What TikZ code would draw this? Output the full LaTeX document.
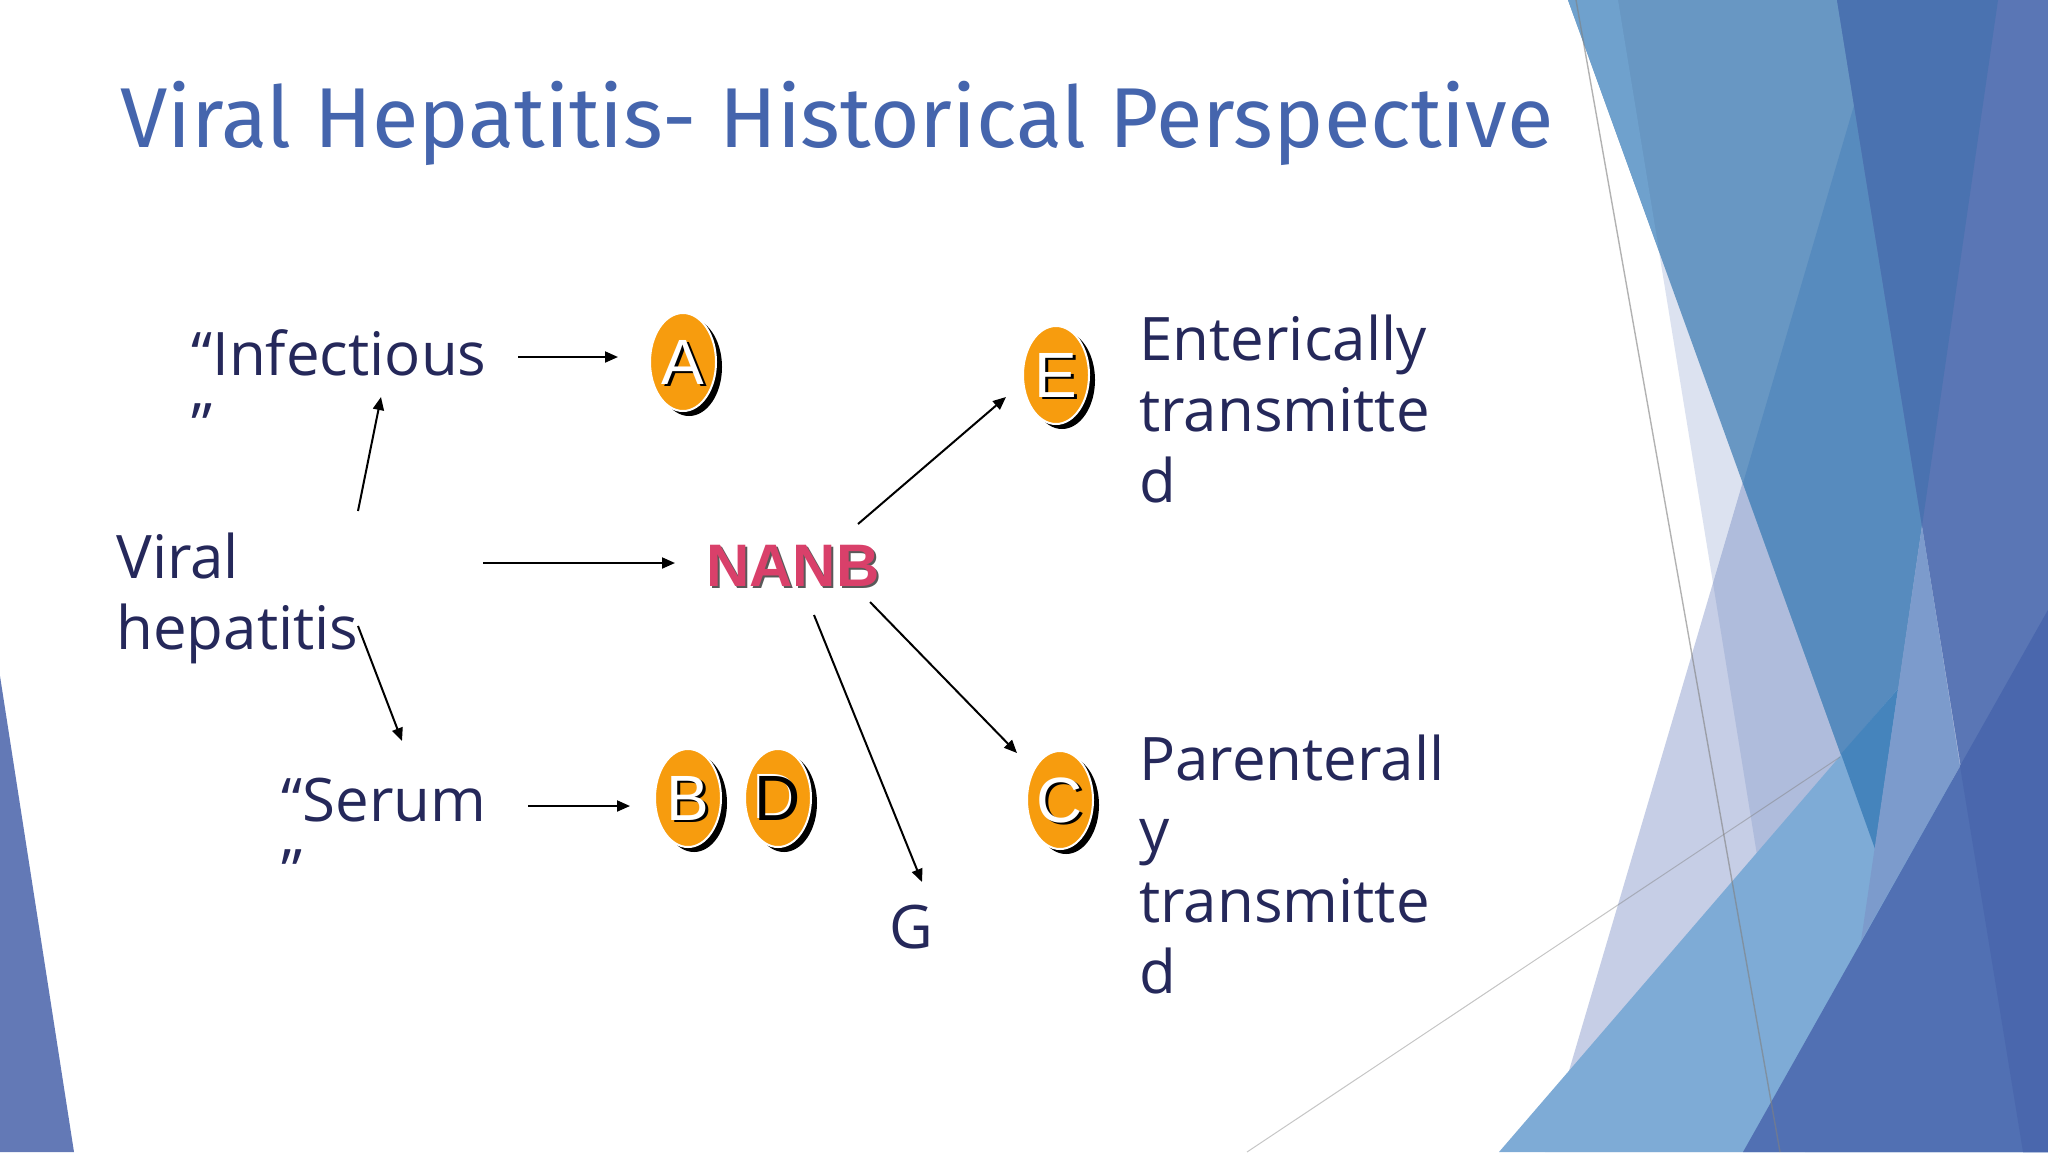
\documentclass[tikz,border=0pt]{standalone}
\usepackage{fontspec}
\setmainfont{Open Sans}
\newfontfamily\titlefont{Fira Sans}
\newfontfamily\arialfont{Liberation Sans}
\usetikzlibrary{arrows.meta,shapes.geometric}
\definecolor{titleblue}{HTML}{4565AD}
\definecolor{bodytext}{HTML}{25285A}
\definecolor{orangefill}{HTML}{F79C0E}
\definecolor{nanbred}{HTML}{D9406A}
\definecolor{leftblue}{HTML}{6379B6}
\definecolor{cLav}{HTML}{C6CEE6}
\definecolor{cSthree}{HTML}{DCE2F0}
\definecolor{cStwothree}{HTML}{AFBCDC}
\definecolor{cSone}{HTML}{6897C3}
\definecolor{cSonel}{HTML}{6FA1CD}
\definecolor{cSonetwo}{HTML}{578BBE}
\definecolor{cSseven}{HTML}{5A76B5}
\definecolor{cSoneseven}{HTML}{4A72B0}
\definecolor{cSfour}{HTML}{7EABD6}
\definecolor{cSonefour}{HTML}{4584BC}
\definecolor{cSfive}{HTML}{7C9BCC}
\definecolor{cSsix}{HTML}{5170B3}
\definecolor{cSsixseven}{HTML}{4A67AD}
\newcommand\shletter[1]{\rlap{\smash{\kern1.2pt\raisebox{-1.2pt}{\color{black}#1}}}{\color{white}#1}}
\newcommand\dletter[1]{\rlap{\smash{\kern-1pt\raisebox{0.8pt}{\color{white}#1}}}{\color{black}#1}}
\tikzset{
  lbl/.style={anchor=base west, inner sep=0pt, text=bodytext, font=\fontsize{30}{35.5}\selectfont},
  virus/.style={ellipse, fill=orangefill, draw=white, line width=1pt, minimum width=33pt, minimum height=49pt, inner sep=0pt, font=\arialfont\fontsize{32}{36}\selectfont},
  vshadow/.style={ellipse, fill=black, minimum width=33pt, minimum height=49pt, inner sep=0pt},
  arr/.style={-{Triangle[length=6.5pt,width=5.5pt]}, line width=1pt, black},
  grayline/.style={draw=gray, line width=0.7pt, opacity=0.6},
}
\begin{document}
\begin{tikzpicture}[x=0.5pt,y=-0.5pt]
\useasboundingbox (0,0) rectangle (2048,1152);
\fill[white] (0,0) rectangle (2048,1152);
% left decoration
\fill[leftblue] (0,676) -- (74,1152) -- (0,1152) -- cycle;
% right decoration
\fill[cLav] (1885,0) -- (2048,0) -- (2048,1152) -- (1545,1152) -- cycle;
\fill[cSthree] (1618,0) -- (1885,0) -- (1713,583) -- cycle;
\fill[cStwothree] (1885,0) -- (2048,0) -- (2048,1152) -- (1805,1152) -- (1713,583) -- cycle;
\fill[cSone] (1568,0) -- (1998,0) -- (1875,849) -- cycle;
\fill[cSonel] (1568,0) -- (1618,0) -- (1659,251) -- cycle;
\fill[cSonetwo] (1885,0) -- (1998,0) -- (1875,849) -- (1743,483) -- cycle;
\fill[cSseven] (1837,0) -- (2048,0) -- (2048,1152) -- (2023,1152) -- cycle;
\fill[cSoneseven] (1837,0) -- (1998,0) -- (1922,526) -- cycle;
\fill[cSfour] (1499,1152) -- (1922,661) -- (2048,1152) -- cycle;
\fill[cSonefour] (1841,754) -- (1898,689) -- (1875,849) -- cycle;
\fill[cSfive] (1922,526) -- (1960,766) -- (1861,941) -- cycle;
\fill[cSsix] (1743,1152) -- (2048,610) -- (2048,1152) -- cycle;
\fill[cSsixseven] (1960,766) -- (2048,610) -- (2048,1152) -- (2023,1152) -- cycle;
\draw[grayline] (1576,0) -- (1780,1152);
\draw[grayline, line width=0.5pt, opacity=0.45] (1247,1152) -- (1840,757);

% title
\node[anchor=base west, inner sep=0pt, text=titleblue, font=\titlefont\fontsize{42.5}{48}\selectfont] (title) at (120,147) {Viral Hepatitis- Historical Perspective};

% text labels
\node[lbl] (inf) at (191,375) {\begin{tabular}[t]{@{}l@{}}“Infectious\\”\end{tabular}};
\node[lbl] (viral) at (116,578) {\begin{tabular}[t]{@{}l@{}}Viral\\hepatitis\end{tabular}};
\node[lbl] (serum) at (281,821) {\begin{tabular}[t]{@{}l@{}}“Serum\\”\end{tabular}};
\node[lbl] (G) at (889,948) {G};
\node[lbl] (ent) at (1139,360) {\begin{tabular}[t]{@{}l@{}}Enterically\\transmitte\\d\end{tabular}};
\node[lbl] (par) at (1139,780) {\begin{tabular}[t]{@{}l@{}}Parenterall\\y\\transmitte\\d\end{tabular}};

% NANB
\node[inner sep=0pt] (nanb) at (793,566) {\arialfont\bfseries\fontsize{30}{34}\selectfont\rlap{\smash{\kern1pt\raisebox{-1pt}{\color{black!65}NANB}}}{\color{nanbred}NANB}};

% virus ellipses
\node[vshadow] (As) at (689,367) {};
\node[virus] (A) at (683,362) {\shletter{A}};
\node[vshadow] (Es) at (1062,380) {};
\node[virus] (E) at (1056,375) {\shletter{E}};
\node[vshadow] (Bs) at (694,803) {};
\node[virus] (B) at (688,798) {\shletter{B}};
\node[vshadow] (Ds) at (784,803) {};
\node[virus] (D) at (778,798) {\dletter{D}};
\node[vshadow] (Cs) at (1066,805) {};
\node[virus] (C) at (1060,800) {\shletter{C}};

% connector end points
\coordinate (infOut) at (518,357);
\coordinate (aIn) at (618,357);
\coordinate (vhUp) at (358,511);
\coordinate (infIn) at (381,397);
\coordinate (vhMid) at (483,563);
\coordinate (nanbIn) at (675,563);
\coordinate (vhDown) at (358,626);
\coordinate (serumIn) at (402,741);
\coordinate (serumOut) at (528,806);
\coordinate (bIn) at (630,806);
\coordinate (nanbE) at (858,524);
\coordinate (eIn) at (1006,397);
\coordinate (nanbC) at (870,602);
\coordinate (cIn) at (1017,753);
\coordinate (nanbG) at (814,615);
\coordinate (gIn) at (922,882);

\draw[arr] (infOut) -- (aIn);
\draw[arr] (vhUp) -- (infIn);
\draw[arr] (vhMid) -- (nanbIn);
\draw[arr] (vhDown) -- (serumIn);
\draw[arr] (serumOut) -- (bIn);
\draw[arr] (nanbE) -- (eIn);
\draw[arr] (nanbC) -- (cIn);
\draw[arr] (nanbG) -- (gIn);
\end{tikzpicture}
\end{document}
